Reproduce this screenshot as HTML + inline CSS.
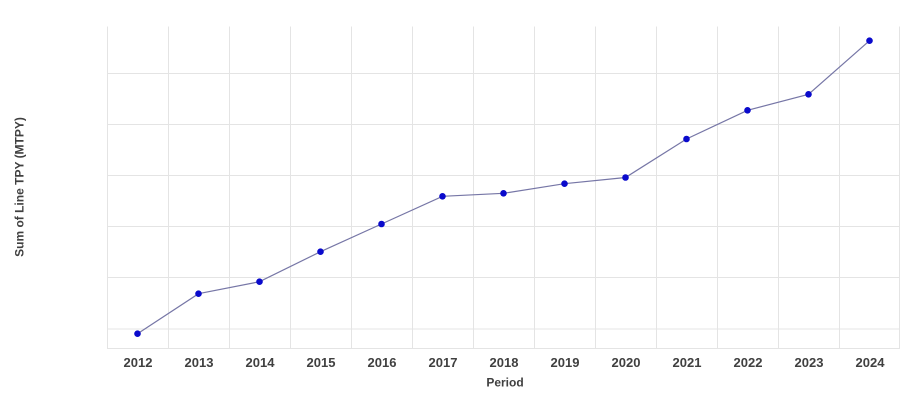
<!DOCTYPE html>
<html>
<head>
<meta charset="utf-8">
<style>
html,body{margin:0;padding:0;background:#fff;}
svg{display:block;}
text{font-family:"Liberation Sans",sans-serif;font-weight:bold;fill:#404040;}
</style>
</head>
<body>
<svg width="900" height="419" viewBox="0 0 900 419" xmlns="http://www.w3.org/2000/svg">
  <g stroke="#e4e4e4" stroke-width="1" fill="none">
    <!-- horizontal gridlines -->
    <line x1="107" y1="73.5" x2="900" y2="73.5"/>
    <line x1="107" y1="124.5" x2="900" y2="124.5"/>
    <line x1="107" y1="175.5" x2="900" y2="175.5"/>
    <line x1="107" y1="226.5" x2="900" y2="226.5"/>
    <line x1="107" y1="277.5" x2="900" y2="277.5"/>
    <line x1="107" y1="329" x2="900" y2="329"/>
    <line x1="107" y1="348.5" x2="900" y2="348.5"/>
    <!-- vertical gridlines -->
    <line x1="107.5" y1="26.5" x2="107.5" y2="349"/>
    <line x1="168.5" y1="26.5" x2="168.5" y2="349"/>
    <line x1="229.5" y1="26.5" x2="229.5" y2="349"/>
    <line x1="290.5" y1="26.5" x2="290.5" y2="349"/>
    <line x1="351.5" y1="26.5" x2="351.5" y2="349"/>
    <line x1="412.5" y1="26.5" x2="412.5" y2="349"/>
    <line x1="473.5" y1="26.5" x2="473.5" y2="349"/>
    <line x1="534.5" y1="26.5" x2="534.5" y2="349"/>
    <line x1="595.5" y1="26.5" x2="595.5" y2="349"/>
    <line x1="656.5" y1="26.5" x2="656.5" y2="349"/>
    <line x1="717.5" y1="26.5" x2="717.5" y2="349"/>
    <line x1="778.5" y1="26.5" x2="778.5" y2="349"/>
    <line x1="839.5" y1="26.5" x2="839.5" y2="349"/>
    <line x1="899.5" y1="26.5" x2="899.5" y2="349"/>
  </g>

  <polyline fill="none" stroke="#7676a6" stroke-width="1.2"
    points="137.5,333.7 198.5,293.7 259.5,281.7 320.5,251.7 381.5,224 442.5,196.3 503.5,193.3 564.5,183.7 625.5,177.5 686.5,139 747.5,110.3 808.5,94.3 869.5,40.7"/>

  <g fill="#0a0acc">
    <circle cx="137.5" cy="333.7" r="3.3"/>
    <circle cx="198.5" cy="293.7" r="3.3"/>
    <circle cx="259.5" cy="281.7" r="3.3"/>
    <circle cx="320.5" cy="251.7" r="3.3"/>
    <circle cx="381.5" cy="224" r="3.3"/>
    <circle cx="442.5" cy="196.3" r="3.3"/>
    <circle cx="503.5" cy="193.3" r="3.3"/>
    <circle cx="564.5" cy="183.7" r="3.3"/>
    <circle cx="625.5" cy="177.5" r="3.3"/>
    <circle cx="686.5" cy="139" r="3.3"/>
    <circle cx="747.5" cy="110.3" r="3.3"/>
    <circle cx="808.5" cy="94.3" r="3.3"/>
    <circle cx="869.5" cy="40.7" r="3.3"/>
  </g>

  <g font-size="13" text-anchor="middle">
    <text x="138" y="367">2012</text>
    <text x="199" y="367">2013</text>
    <text x="260" y="367">2014</text>
    <text x="321" y="367">2015</text>
    <text x="382" y="367">2016</text>
    <text x="443" y="367">2017</text>
    <text x="504" y="367">2018</text>
    <text x="565" y="367">2019</text>
    <text x="626" y="367">2020</text>
    <text x="687" y="367">2021</text>
    <text x="748" y="367">2022</text>
    <text x="809" y="367">2023</text>
    <text x="870" y="367">2024</text>
  </g>
  <text x="505" y="386.5" font-size="12" text-anchor="middle">Period</text>
  <text x="0" y="0" font-size="12" text-anchor="middle" transform="translate(23.5,187) rotate(-90)">Sum of Line TPY (MTPY)</text>
</svg>
</body>
</html>
